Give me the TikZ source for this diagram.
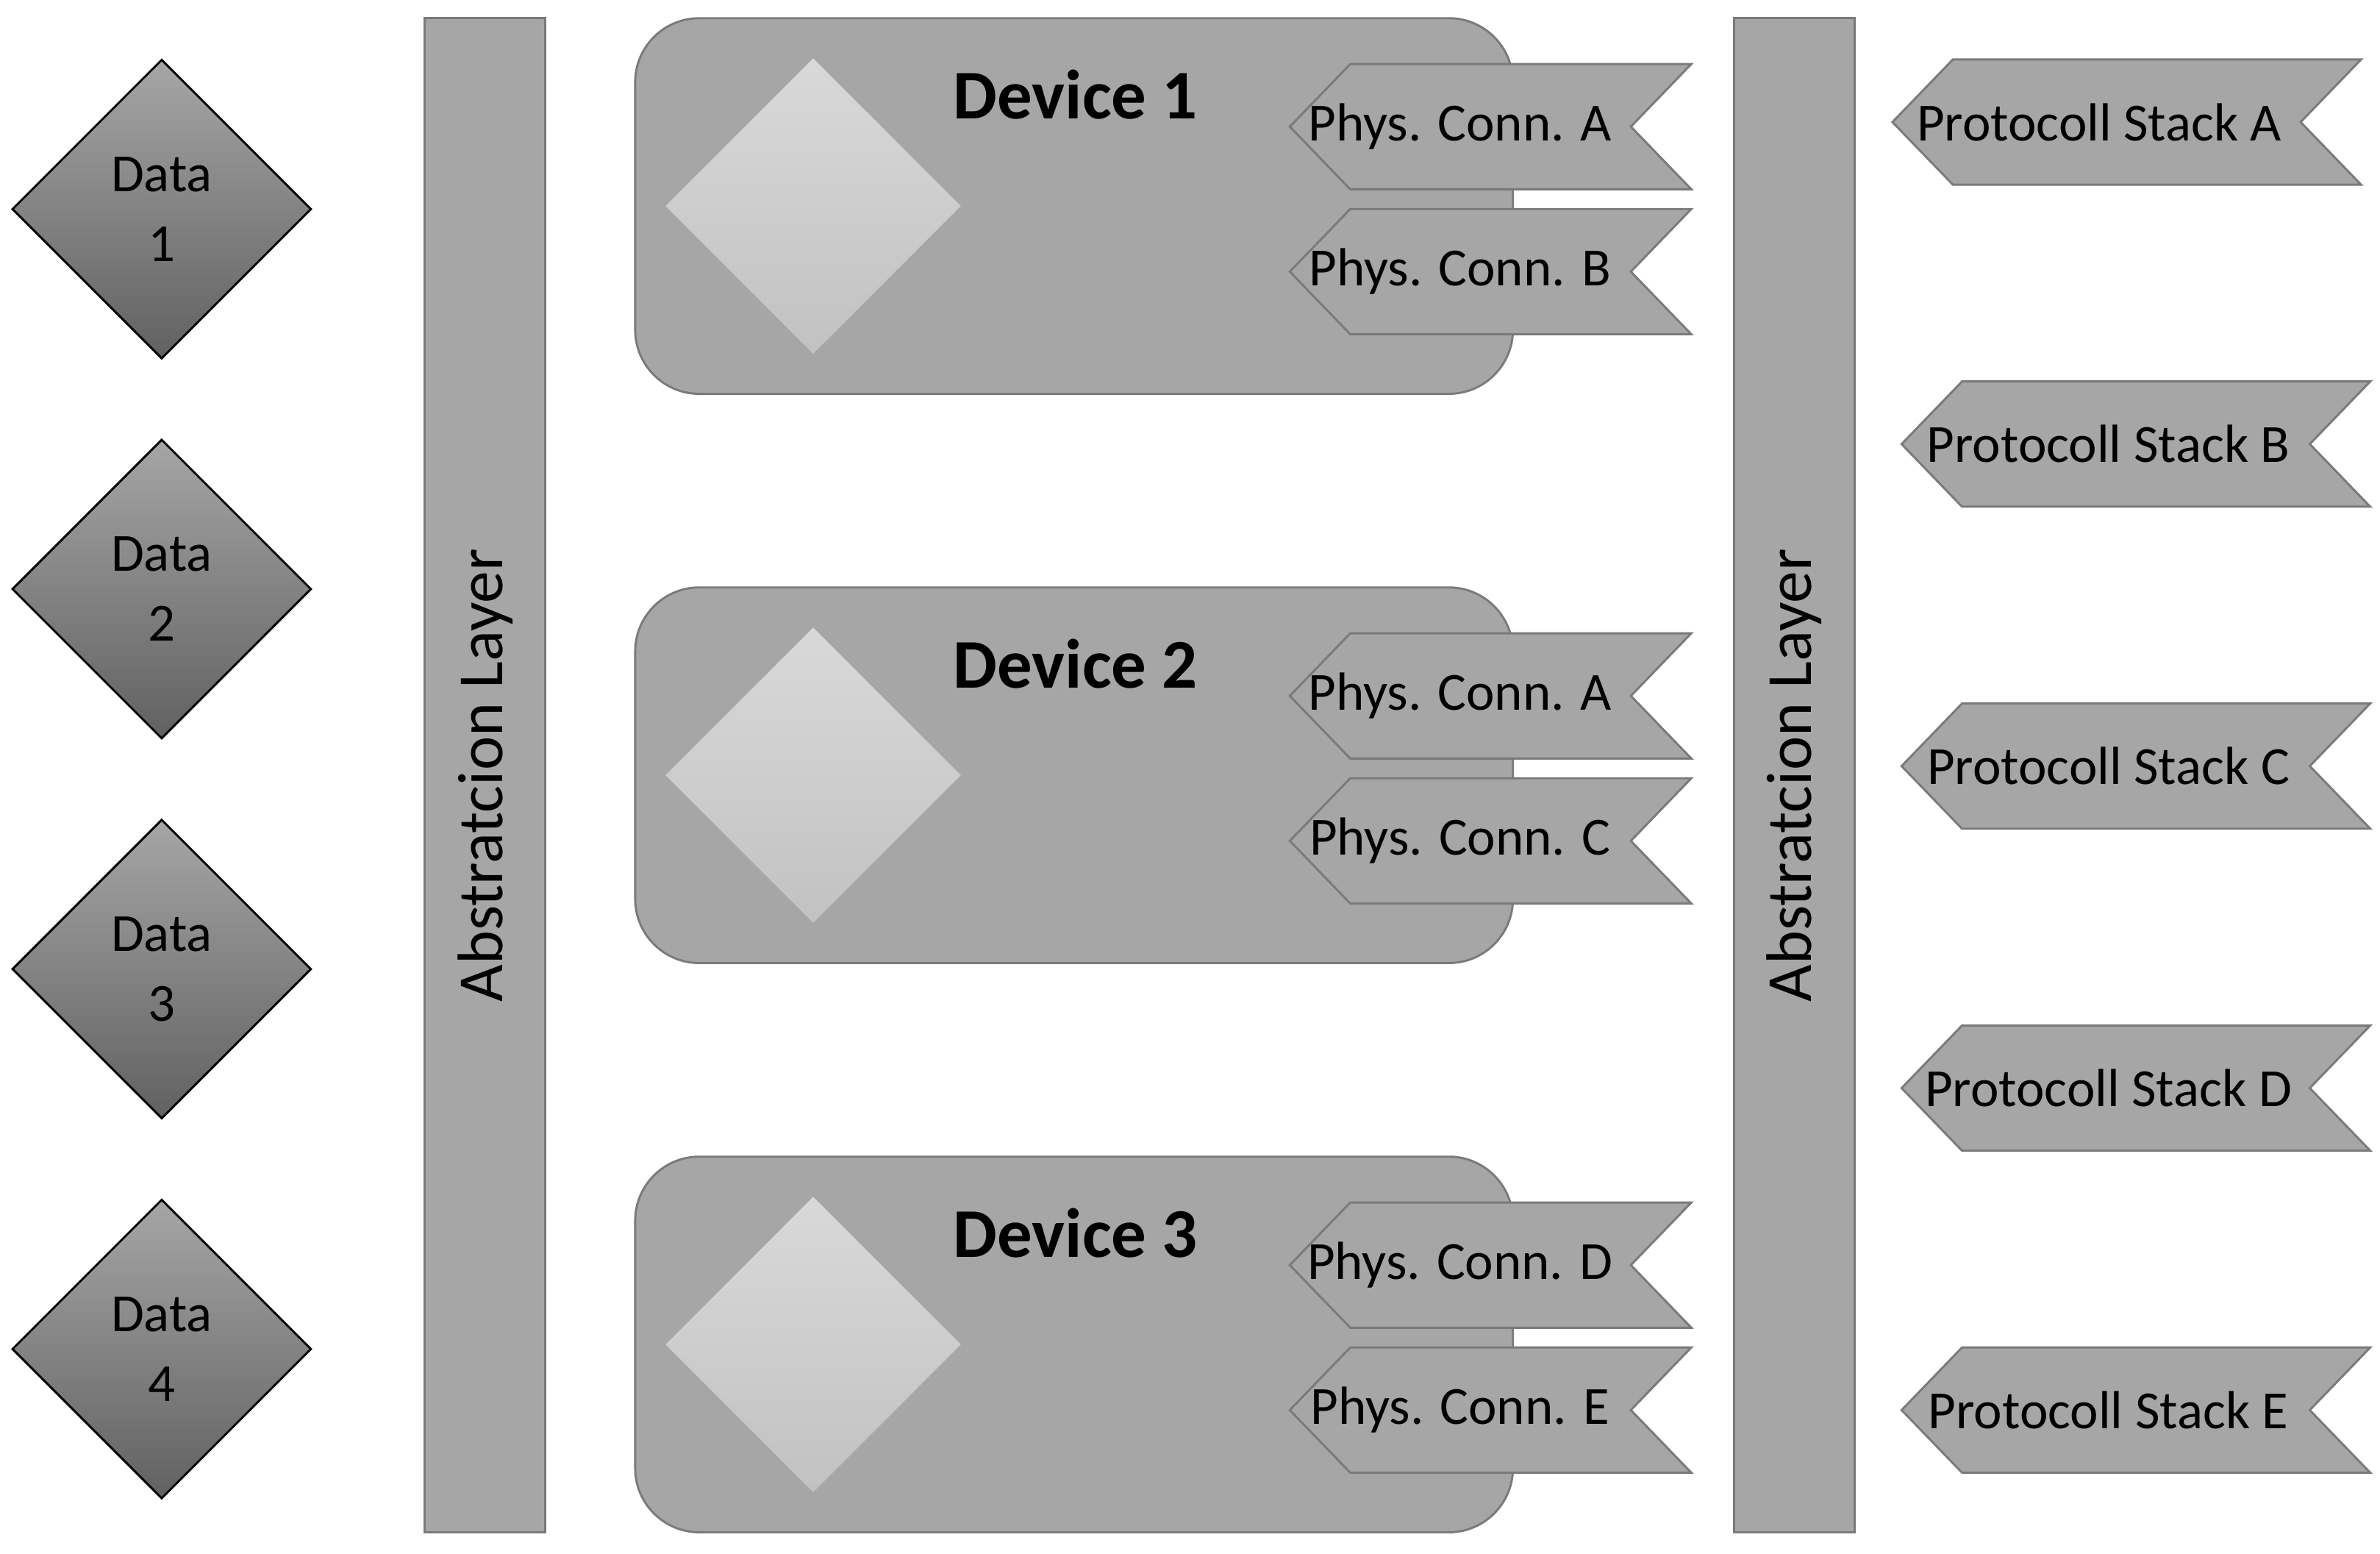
\documentclass[tikz,border=0pt]{standalone}
\usepackage{fontspec}
\setmainfont{Carlito}
\usetikzlibrary{shapes.geometric,shapes.symbols}
\definecolor{boxgray}{HTML}{A6A6A6}
\definecolor{linegray}{HTML}{7A7A7A}
\begin{document}
\begin{tikzpicture}[x=0.01cm,y=-0.01cm,
  data/.style={diamond,draw=black,top color=gray!70,bottom color=black!62,
    minimum width=1.96cm,minimum height=1.96cm,inner sep=0pt,align=center,font=\fontsize{10}{13}\selectfont},
  layer/.style={rectangle,draw=linegray,fill=boxgray,minimum width=0.79cm,minimum height=9.92cm,inner sep=0pt},
  device/.style={rectangle,draw=linegray,fill=boxgray,rounded corners=0.42cm,minimum width=5.75cm,minimum height=2.46cm,inner sep=0pt},
  inner/.style={diamond,top color=black!15,bottom color=black!24,minimum width=1.94cm,minimum height=1.94cm,inner sep=0pt},
  conn/.style={signal,signal to=west,signal from=east,signal pointer angle=92,draw=linegray,fill=boxgray,
    minimum width=2.63cm,minimum height=0.82cm,inner sep=0pt},
  stack/.style={conn,minimum width=3.07cm},
  label/.style={font=\fontsize{10}{12}\selectfont,inner sep=0pt}]
\useasboundingbox (0,0) rectangle (1560,1018);

% data items
\foreach \i/\y in {1/137,2/386,3/635,4/884}
  \node[data] (data\i) at (106,\y) {Data\\\i};

% abstraction layers
\node[layer] (layerL) at (318,508) {};
\node[rotate=90,font=\fontsize{12}{14}\selectfont] at (layerL) {Abstratcion Layer};
\node[layer] (layerR) at (1176,508) {};
\node[rotate=90,font=\fontsize{12}{14}\selectfont] at (layerR) {Abstratcion Layer};

% devices
\foreach \i/\y/\a/\b in {1/135/A/B,2/508/A/C,3/881/D/E}{
  \node[device] (dev\i) at (704,\y) {};
  \node[inner] (img\i) at (533,\y) {};
  \node[font=\fontsize{13}{15}\selectfont\bfseries] (title\i) at (705,\y-73) {Device \i};
  \node[conn] (conn\i a) at (977,\y-52) {};
  \node[label] at ([xshift=-0.2cm]conn\i a.center) {Phys. Conn. \a};
  \node[conn] (conn\i b) at (977,\y+43) {};
  \node[label] at ([xshift=-0.2cm]conn\i b.center) {Phys. Conn. \b};
}

% protocol stacks
\node[stack] (stackA) at (1394,80) {};
\node[label] at ([xshift=-0.18cm]stackA.center) {Protocoll Stack A};
\foreach \s/\y in {B/291,C/502,D/713,E/924}{
  \node[stack] (stack\s) at (1400,\y) {};
  \node[label] at ([xshift=-0.18cm]stack\s.center) {Protocoll Stack \s};
}

\end{tikzpicture}
\end{document}
